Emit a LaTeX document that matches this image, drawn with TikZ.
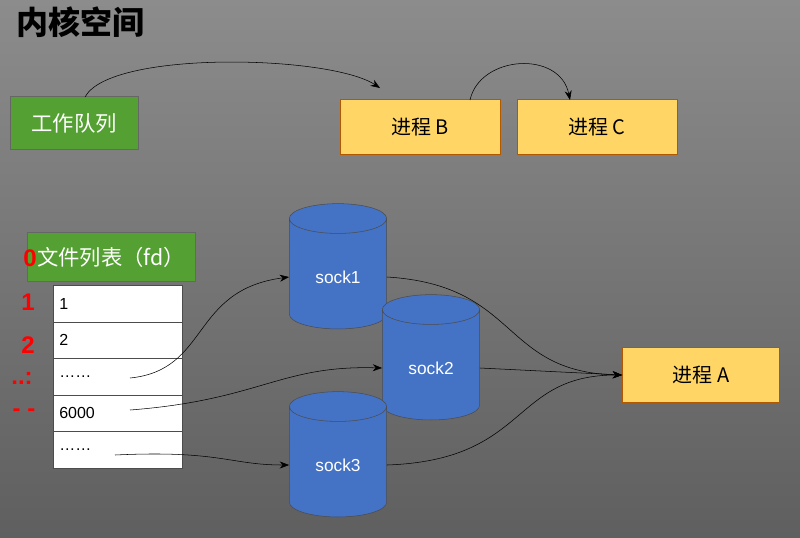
\documentclass[tikz,border=0pt]{standalone}
\usepackage{fontspec}
\setmainfont{Liberation Sans}
\newfontfamily\cjk{Noto Sans CJK SC}
\usetikzlibrary{shapes.geometric,arrows.meta}
\definecolor{bgtop}{RGB}{140,140,140}
\definecolor{bgbot}{RGB}{95,95,95}
\definecolor{gbox}{RGB}{84,160,50}
\definecolor{obox}{RGB}{255,214,102}
\definecolor{cyl}{RGB}{68,114,196}
\begin{document}
\begin{tikzpicture}[x=0.75pt,y=-0.75pt,
  green box/.style={draw=black!60,fill=gbox,text=white,minimum height=40pt,font=\cjk\fontsize{16}{18}\selectfont},
  proc/.style={draw=orange!70!black,fill=obox,minimum width=120pt,minimum height=41pt,font=\cjk\fontsize{15}{17}\selectfont},
  sock/.style={cylinder,shape border rotate=90,aspect=0.55,draw=black!70,fill=cyl,text=white,minimum width=73pt,minimum height=94pt,font=\fontsize{13}{15}\selectfont},
  row/.style={draw=black!70,fill=white,minimum width=97pt,minimum height=27.5pt,anchor=north west,text width=88pt,font=\fontsize{12}{14}\selectfont},
  link/.style={-{Stealth[length=7pt]},black,thin},
  redmark/.style={text=red,font=\bfseries\fontsize{18}{18}\selectfont}]
\shade[top color=bgtop,bottom color=bgbot] (0,0) rectangle (800,537);
\useasboundingbox (0,0) rectangle (800,537);
\node[anchor=west,font=\cjk\bfseries\fontsize{24}{26}\selectfont] (title) at (12,22) {内核空间};
\node[green box,minimum width=96pt] (wq) at (74,123) {工作队列};
\node[proc] (pb) at (420,127) {进程 B};
\node[proc] (pc) at (597,127) {进程 C};
\node[proc,minimum width=118pt] (pa) at (701,375) {进程 A};
\node[green box,minimum width=126pt,minimum height=37pt] (fd) at (111,257) {文件列表（fd）};
\node[row] (r1) at (53,285) {1};
\node[row] (r2) at (53,321.5) {2};
\node[row] (r3) at (53,358) {……};
\node[row] (r4) at (53,394.5) {6000};
\node[row] (r5) at (53,431) {……};
\node[sock] (s1) at (338,277) {sock1};
\node[sock] (s2) at (431,368) {sock2};
\node[sock] (s3) at (338,465) {sock3};
\node[redmark] (m0) at (30,258) {0};
\node[redmark] (m1) at (28,302) {1};
\node[redmark] (m2) at (28,345) {2};
\node[redmark] (m3) at (22,378) {..:};
\node[redmark] (m4) at (24,413) {- -};
\coordinate (wqt) at (85,97);
\coordinate (pbt) at (470,100);
\coordinate (pct) at (570,100);
\coordinate (e3) at (130,378);
\coordinate (e4) at (130,410);
\coordinate (e5) at (115,455);
\draw[link] (wqt) .. controls (110,50) and (330,55) .. (380,88);
\draw[link] (pbt) .. controls (480,55) and (560,50) .. (pct);
\draw[link] (e3) .. controls (210,370) and (190,290) .. (s1.west);
\draw[link] (e4) .. controls (260,400) and (280,365) .. (s2.west);
\draw[link] (e5) .. controls (220,450) and (230,465) .. (s3.west);
\draw[link] (s1.east) .. controls (520,285) and (500,372) .. (pa.west);
\draw[link] (s2.east) -- (pa.west);
\draw[link] (s3.east) .. controls (530,460) and (510,375) .. (pa.west);
\end{tikzpicture}
\end{document}
